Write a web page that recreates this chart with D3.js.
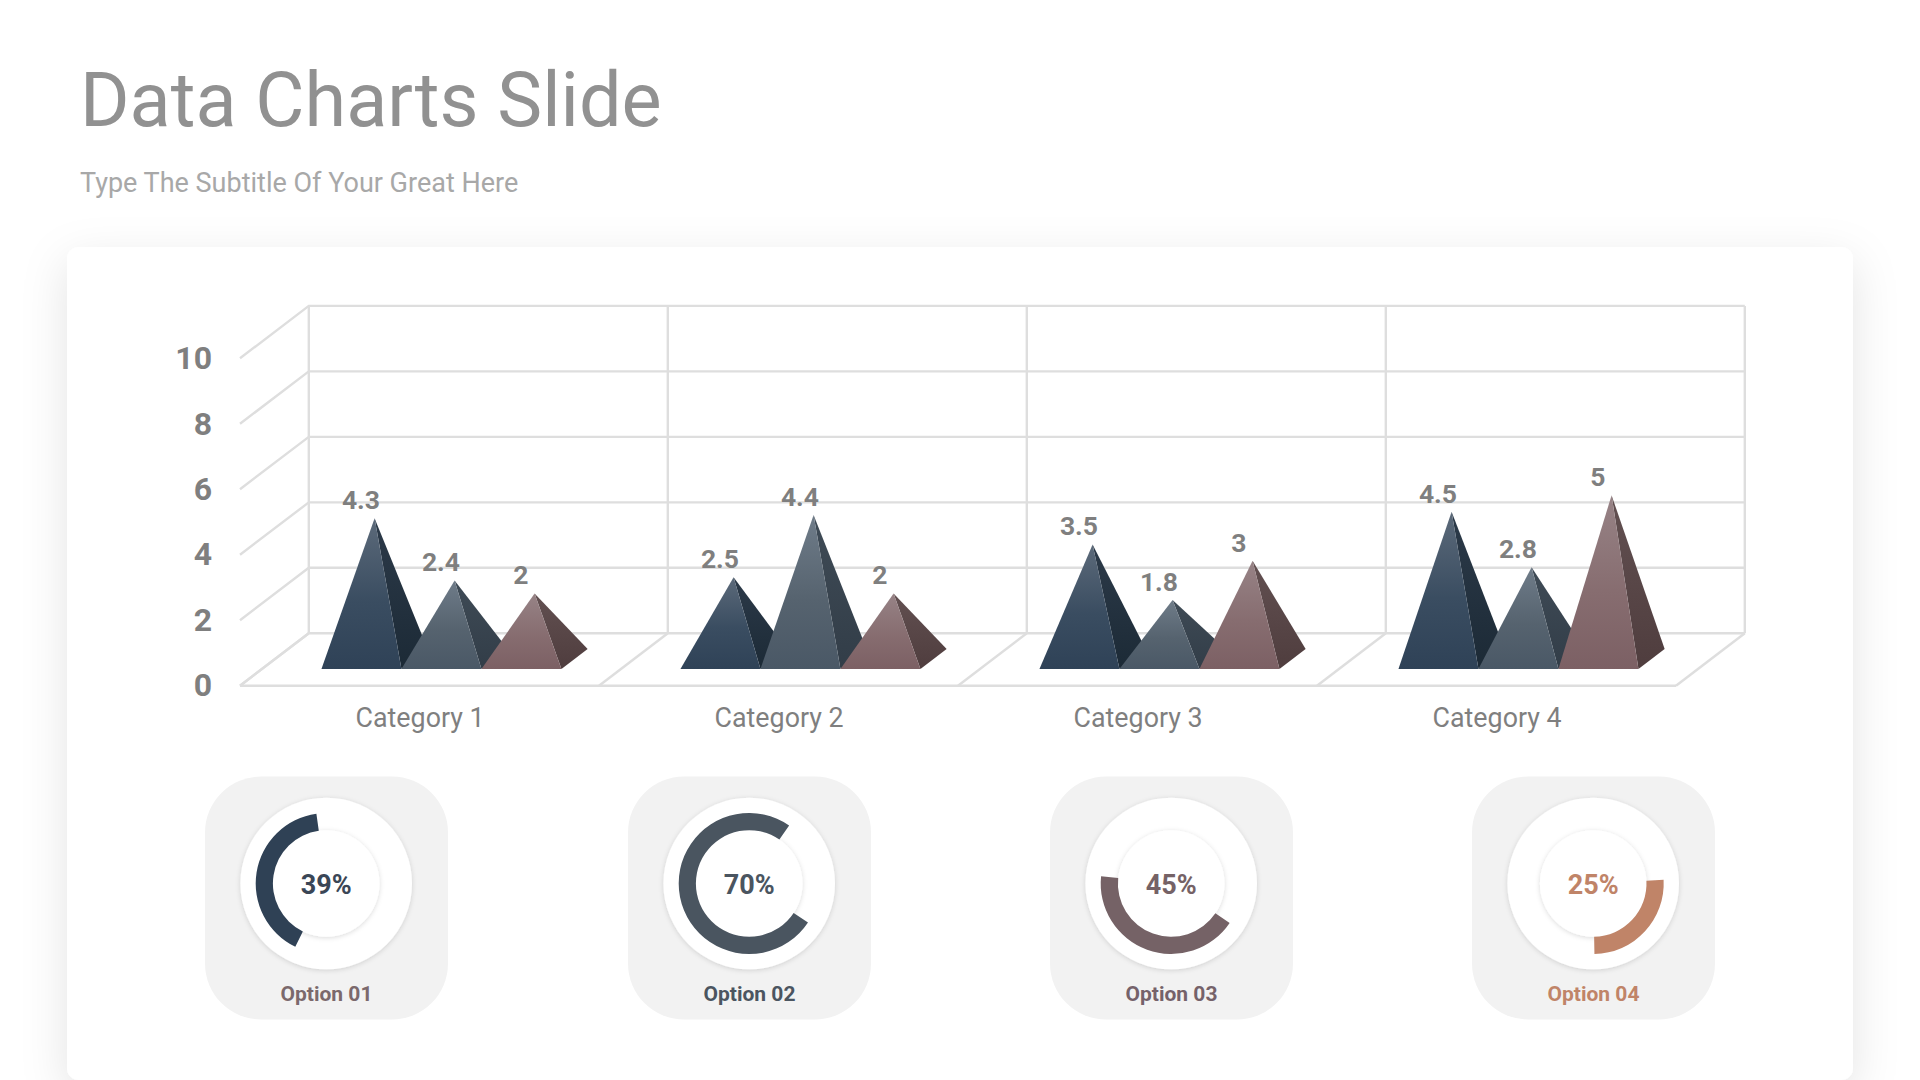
<!DOCTYPE html>
<html>
<head>
<meta charset="utf-8">
<script src="https://cdn.jsdelivr.net/npm/d3@7"></script>
<style>
  html, body { margin: 0; padding: 0; background: #fff; overflow: hidden; }
  svg { display: block; }
  text { font-family: Roboto, sans-serif; }
  .axis path, .axis line { display: none; }
</style>
</head>
<body>
<script>
var categories = ['Category 1', 'Category 2', 'Category 3', 'Category 4'];
var seriesNames = ['Series 1', 'Series 2', 'Series 3'];
var series1 = [4.3, 2.5, 3.5, 4.5];
var series2 = [2.4, 4.4, 1.8, 2.8];
var series3 = [2, 2, 3, 5];
var yTicks = [0, 2, 4, 6, 8, 10];

var optionLabels = ['Option 01', 'Option 02', 'Option 03', 'Option 04'];
var optionPercent = [39, 70, 45, 25];
// the rings do not follow the printed percent exactly, so these are read off the picture (degrees from 12 o'clock)
var ringStart = [206, -236.5, 124, 87];
var ringEnd = [352, 34.5, 276, 179];

var frontColors = [['#5c6a7a', '#3a4d61', '#2f4257'], ['#6f7c89', '#56636f', '#4a5866'], ['#978386', '#876d70', '#7c6064']];
var sideColors = [['#2c3a49', '#1c2a36'], ['#3f4b56', '#323d48'], ['#625051', '#4f3d3e']];
var ringColors = ['#2f4155', '#4a5560', '#756266', '#c08468'];
var percentColors = ['#3a4656', '#4a5560', '#756266', '#c08468'];
var optionColors = ['#7b696c', '#4b5560', '#75626a', '#c08468'];

var width = 1920, height = 1080;
var floorDX = 68.8, floorDY = 52.4;

var svg = d3.select('body').append('svg').attr('width', width).attr('height', height);
var defs = svg.append('defs');

var cardShadow = defs.append('filter').attr('id', 'cardShadow')
  .attr('x', '-10%').attr('y', '-20%').attr('width', '120%').attr('height', '140%');
cardShadow.append('feDropShadow').attr('dx', 0).attr('dy', 14).attr('stdDeviation', 23)
  .attr('flood-color', '#000').attr('flood-opacity', 0.11);

var circleShadow = defs.append('filter').attr('id', 'circleShadow')
  .attr('x', '-20%').attr('y', '-20%').attr('width', '140%').attr('height', '140%');
circleShadow.append('feDropShadow').attr('dx', 0).attr('dy', 1).attr('stdDeviation', 2.5)
  .attr('flood-color', '#000').attr('flood-opacity', 0.15);

frontColors.forEach(function(c, i) {
  var g = defs.append('linearGradient').attr('id', 'front' + i)
    .attr('x1', 0).attr('y1', 0).attr('x2', 0).attr('y2', 1);
  g.append('stop').attr('offset', '0%').attr('stop-color', c[0]);
  g.append('stop').attr('offset', '55%').attr('stop-color', c[1]);
  g.append('stop').attr('offset', '100%').attr('stop-color', c[2]);
});
sideColors.forEach(function(c, i) {
  var g = defs.append('linearGradient').attr('id', 'side' + i)
    .attr('x1', 0).attr('y1', 0).attr('x2', 0).attr('y2', 1);
  g.append('stop').attr('offset', '0%').attr('stop-color', c[0]);
  g.append('stop').attr('offset', '100%').attr('stop-color', c[1]);
});

// title
svg.append('text').attr('x', 80).attr('y', 126).attr('font-size', 75.6).attr('fill', '#919191').text('Data Charts Slide');
svg.append('text').attr('x', 80).attr('y', 191.5).attr('font-size', 27).attr('fill', '#a8a8a8').text('Type The Subtitle Of Your Great Here');

// card
svg.append('rect').attr('x', 67).attr('y', 247).attr('width', 1786).attr('height', 833).attr('rx', 12)
  .attr('fill', '#fff').attr('filter', 'url(#cardShadow)');

// 3d chart
var y = d3.scaleLinear().domain([0, 10]).range([685.7, 358.3]);
var x = d3.scaleBand().domain(categories).range([240, 1676]);
var xSeries = d3.scaleBand().domain(seriesNames).range([0, x.bandwidth()]).paddingInner(0).paddingOuter(0.744);

function px(base, depth) { return base + depth * floorDX; }
function py(v, depth) { return y(v) - depth * floorDY; }

var line = d3.line();
var grid = svg.append('g').attr('fill', 'none').attr('stroke', '#dedede').attr('stroke-width', 2.4);

// back wall and left side wall
grid.selectAll('.wallLine').data(yTicks).enter().append('path')
  .attr('d', function(d) {
    return line([[px(x.range()[0], 0), py(d, 0)], [px(x.range()[0], 1), py(d, 1)], [px(x.range()[1], 1), py(d, 1)]]);
  });

// uprights on the back wall, floor dividers
var edges = categories.map(function(c) { return x(c); }).concat([x.range()[1]]);
grid.selectAll('.upright').data(edges).enter().append('path')
  .attr('d', function(d) { return line([[px(d, 1), py(0, 1)], [px(d, 1), py(10, 1)]]); });
grid.selectAll('.floorLine').data(edges).enter().append('path')
  .attr('d', function(d) { return line([[px(d, 0), py(0, 0)], [px(d, 1), py(0, 1)]]); });
grid.append('path').attr('d', line([[px(x.range()[0], 0), py(0, 0)], [px(x.range()[1], 0), py(0, 0)]]));

// pyramids
var baseFront = 0.319, baseBack = 0.70, baseMid = 0.51;
var allSeries = [series1, series2, series3];
var bars = [];
categories.forEach(function(c, ci) {
  seriesNames.forEach(function(s, si) {
    bars.push({ cat: c, name: s, index: si, value: allSeries[si][ci] });
  });
});

var bar = svg.append('g').selectAll('g').data(bars).enter().append('g');

function barLeft(d) { return x(d.cat) + xSeries(d.name); }
function apex(d) {
  return [px(barLeft(d) + xSeries.bandwidth() / 2, baseMid), py(d.value, baseMid)];
}

bar.append('path')
  .attr('fill', function(d) { return 'url(#side' + d.index + ')'; })
  .attr('d', function(d) {
    var r = barLeft(d) + xSeries.bandwidth();
    return line([[px(r, baseFront), py(0, baseFront)], [px(r, baseBack), py(0, baseBack)], apex(d)]) + 'Z';
  });

bar.append('path')
  .attr('fill', function(d) { return 'url(#front' + d.index + ')'; })
  .attr('d', function(d) {
    var l = barLeft(d), r = l + xSeries.bandwidth();
    return line([[px(l, baseFront), py(0, baseFront)], [px(r, baseFront), py(0, baseFront)], apex(d)]) + 'Z';
  });

svg.append('g').selectAll('text').data(bars).enter().append('text')
  .attr('x', function(d) { return px(barLeft(d) + xSeries.bandwidth() / 2, baseFront) - 0.5; })
  .attr('y', function(d) { return apex(d)[1] - 9; })
  .attr('text-anchor', 'middle')
  .attr('font-size', 26.5).attr('font-weight', 700).attr('fill', '#7f7f7f')
  .text(function(d) { return d.value; });

// axes
var yAxis = svg.append('g').attr('class', 'axis').attr('transform', 'translate(222,0)')
  .call(d3.axisLeft(y).tickValues(yTicks).tickSize(0).tickPadding(10));
yAxis.selectAll('text').attr('font-size', 32).attr('font-weight', 700).attr('fill', '#7f7f7f')
  .style('font-family', 'Roboto, sans-serif');

var xAxis = svg.append('g').attr('class', 'axis').attr('transform', 'translate(0.6,' + y(0) + ')')
  .call(d3.axisBottom(x).tickSize(0).tickPadding(21.8));
xAxis.selectAll('text').attr('font-size', 26.8).attr('fill', '#7f7f7f')
  .style('font-family', 'Roboto, sans-serif');

// option tiles
var tileX = d3.scaleOrdinal().domain(optionLabels).range([205, 628, 1050, 1472]);
var tileSize = 243;
var arc = d3.arc().innerRadius(53.3).outerRadius(70.5);
var rad = Math.PI / 180;

var tile = svg.append('g').selectAll('g').data(optionLabels).enter().append('g')
  .attr('transform', function(d) { return 'translate(' + tileX(d) + ',776.5)'; });

tile.append('rect').attr('width', tileSize).attr('height', tileSize).attr('rx', 56).attr('fill', '#f2f2f2');

var dial = tile.append('g').attr('transform', 'translate(' + (tileSize / 2 - 0.3) + ',107)');
dial.append('circle').attr('r', 85.8).attr('fill', '#fff').attr('filter', 'url(#circleShadow)');
dial.append('circle').attr('r', 53.3).attr('fill', '#fff').attr('filter', 'url(#circleShadow)');
dial.append('path')
  .attr('fill', function(d, i) { return ringColors[i]; })
  .attr('d', function(d, i) { return arc({ startAngle: ringStart[i] * rad, endAngle: ringEnd[i] * rad }); });
dial.append('text').attr('text-anchor', 'middle').attr('y', 10.3)
  .attr('font-size', 27).attr('font-weight', 700)
  .attr('fill', function(d, i) { return percentColors[i]; })
  .text(function(d, i) { return optionPercent[i] + '%'; });

tile.append('text').attr('x', tileSize / 2).attr('y', 224.8).attr('text-anchor', 'middle')
  .attr('font-size', 21).attr('font-weight', 700)
  .attr('fill', function(d, i) { return optionColors[i]; })
  .text(function(d) { return d; });
</script>
</body>
</html>
